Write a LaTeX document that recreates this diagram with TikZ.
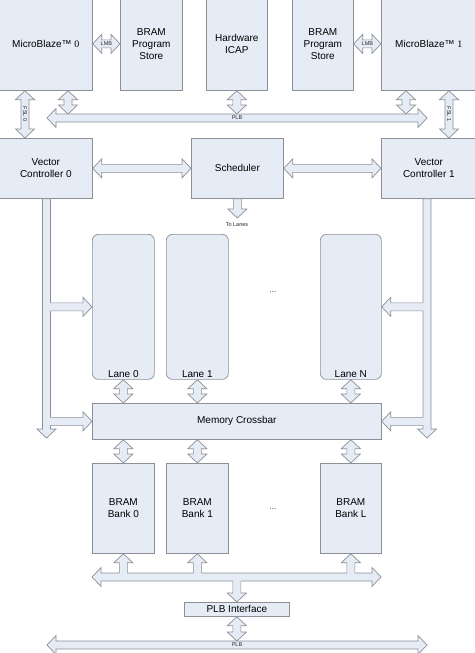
\documentclass[tikz,border=0pt]{standalone}
\usepackage{fontspec}
\setmainfont{Liberation Sans}
\newfontfamily\serifnum{Liberation Serif}
\usetikzlibrary{calc}
\definecolor{boxfill}{RGB}{229,236,246}
\definecolor{boxline}{RGB}{140,143,150}
\def\asw{4pt}\def\ahw{9.5pt}\def\ahl{9pt}
\tikzset{
  box/.style={draw=boxline, fill=boxfill, line width=0.7pt, inner sep=0pt, align=center, anchor=north west, font=\fontsize{10}{12}\selectfont},
  fat/.style={fill=boxfill, draw=boxline, line width=0.7pt, line join=miter},
  fatline/.style={draw=boxline, line width=0.7pt, line join=miter},
  tinylbl/.style={inner sep=0pt, font=\fontsize{5.5}{6.5}\selectfont, text=black!85},
  smalllbl/.style={inner sep=0pt, font=\fontsize{5.5}{6.5}\selectfont, text=black!85},
  dotslbl/.style={inner sep=0pt, font=\fontsize{8}{9}\selectfont, text=black!85},
  lanelbl/.style={inner sep=2pt, anchor=south, font=\fontsize{10}{12}\selectfont}
}
% horizontal double arrow, #1 left tip, #2 right tip
\newcommand\hdbl[2]{\path[fat] let \p1=(#1), \p2=(#2) in
 (\x1,\y1) -- (\x1+\ahl,\y1+\ahw) -- (\x1+\ahl,\y1+\asw) -- (\x2-\ahl,\y1+\asw) -- (\x2-\ahl,\y1+\ahw) -- (\x2,\y1)
 -- (\x2-\ahl,\y1-\ahw) -- (\x2-\ahl,\y1-\asw) -- (\x1+\ahl,\y1-\asw) -- (\x1+\ahl,\y1-\ahw) -- cycle;}
% vertical double arrow, #1 top tip, #2 bottom tip
\newcommand\vdbl[2]{\path[fat] let \p1=(#1), \p2=(#2) in
 (\x1,\y1) -- (\x1+\ahw,\y1-\ahl) -- (\x1+\asw,\y1-\ahl) -- (\x1+\asw,\y2+\ahl) -- (\x1+\ahw,\y2+\ahl) -- (\x1,\y2)
 -- (\x1-\ahw,\y2+\ahl) -- (\x1-\asw,\y2+\ahl) -- (\x1-\asw,\y1-\ahl) -- (\x1-\ahw,\y1-\ahl) -- cycle;}
% single arrow downwards, #1 tail, #2 tip
\newcommand\vdown[2]{\path[fat] let \p1=(#1), \p2=(#2) in
 (\x1-\asw,\y1) -- (\x1+\asw,\y1) -- (\x1+\asw,\y2+\ahl) -- (\x1+\ahw,\y2+\ahl) -- (\x1,\y2)
 -- (\x1-\ahw,\y2+\ahl) -- (\x1-\asw,\y2+\ahl) -- cycle;}
% branches leaving a bus (tail open, starts at bus centre)
\newcommand\rbranch[2]{%
 \fill[boxfill] let \p1=(#1), \p2=(#2) in (\x1,\y1+\asw) -- (\x2-\ahl,\y1+\asw) -- (\x2-\ahl,\y1+\ahw) -- (\x2,\y1) -- (\x2-\ahl,\y1-\ahw) -- (\x2-\ahl,\y1-\asw) -- (\x1,\y1-\asw) -- cycle;
 \path[fatline] let \p1=(#1), \p2=(#2) in (\x1+\asw,\y1+\asw) -- (\x2-\ahl,\y1+\asw) -- (\x2-\ahl,\y1+\ahw) -- (\x2,\y1) -- (\x2-\ahl,\y1-\ahw) -- (\x2-\ahl,\y1-\asw) -- (\x1+\asw,\y1-\asw);}
\newcommand\lbranch[2]{%
 \fill[boxfill] let \p1=(#1), \p2=(#2) in (\x1,\y1+\asw) -- (\x2+\ahl,\y1+\asw) -- (\x2+\ahl,\y1+\ahw) -- (\x2,\y1) -- (\x2+\ahl,\y1-\ahw) -- (\x2+\ahl,\y1-\asw) -- (\x1,\y1-\asw) -- cycle;
 \path[fatline] let \p1=(#1), \p2=(#2) in (\x1-\asw,\y1+\asw) -- (\x2+\ahl,\y1+\asw) -- (\x2+\ahl,\y1+\ahw) -- (\x2,\y1) -- (\x2+\ahl,\y1-\ahw) -- (\x2+\ahl,\y1-\asw) -- (\x1-\asw,\y1-\asw);}
\newcommand\ubranch[2]{%
 \fill[boxfill] let \p1=(#1), \p2=(#2) in (\x1-\asw,\y1) -- (\x1-\asw,\y2-\ahl) -- (\x1-\ahw,\y2-\ahl) -- (\x1,\y2) -- (\x1+\ahw,\y2-\ahl) -- (\x1+\asw,\y2-\ahl) -- (\x1+\asw,\y1) -- cycle;
 \path[fatline] let \p1=(#1), \p2=(#2) in (\x1-\asw,\y1+\asw) -- (\x1-\asw,\y2-\ahl) -- (\x1-\ahw,\y2-\ahl) -- (\x1,\y2) -- (\x1+\ahw,\y2-\ahl) -- (\x1+\asw,\y2-\ahl) -- (\x1+\asw,\y1+\asw);}
\newcommand\dbranch[2]{%
 \fill[boxfill] let \p1=(#1), \p2=(#2) in (\x1-\asw,\y1) -- (\x1-\asw,\y2+\ahl) -- (\x1-\ahw,\y2+\ahl) -- (\x1,\y2) -- (\x1+\ahw,\y2+\ahl) -- (\x1+\asw,\y2+\ahl) -- (\x1+\asw,\y1) -- cycle;
 \path[fatline] let \p1=(#1), \p2=(#2) in (\x1-\asw,\y1-\asw) -- (\x1-\asw,\y2+\ahl) -- (\x1-\ahw,\y2+\ahl) -- (\x1,\y2) -- (\x1+\ahw,\y2+\ahl) -- (\x1+\asw,\y2+\ahl) -- (\x1+\asw,\y1-\asw);}
\begin{document}
\begin{tikzpicture}[x=1pt,y=-1pt]
\useasboundingbox (0,0) rectangle (474,653);
\fill[white] (0,0) rectangle (474,653);
% ---- boxes
\node[box, minimum width=93pt, minimum height=93pt] (mb0) at (-1,-3) {MicroBlaze™ {\serifnum 0}};
\node[box, minimum width=62pt, minimum height=93pt] (bps0) at (120,-3) {BRAM\\Program\\Store};
\node[box, minimum width=61pt, minimum height=93pt] (icap) at (206,-3) {Hardware\\ICAP};
\node[box, minimum width=61pt, minimum height=93pt] (bps1) at (292,-3) {BRAM\\Program\\Store};
\node[box, minimum width=95pt, minimum height=93pt] (mb1) at (381,-3) {MicroBlaze™ {\serifnum 1}};
\node[box, minimum width=93pt, minimum height=60pt] (vc0) at (-1,138) {Vector\\Controller 0};
\node[box, minimum width=92pt, minimum height=60pt] (sched) at (191,138) {Scheduler};
\node[box, minimum width=95pt, minimum height=60pt] (vc1) at (381,138) {Vector\\Controller 1};
\node[box, rounded corners=6pt, minimum width=62pt, minimum height=145pt] (lane0) at (92,234) {};
\node[box, rounded corners=6pt, minimum width=62pt, minimum height=145pt] (lane1) at (166,234) {};
\node[box, rounded corners=6pt, minimum width=61pt, minimum height=145pt] (laneN) at (320,234) {};
\node[lanelbl] (lane0t) at (lane0.south) {Lane 0};
\node[lanelbl] (lane1t) at (lane1.south) {Lane 1};
\node[lanelbl] (laneNt) at (laneN.south) {Lane N};
\node[box, minimum width=289pt, minimum height=36pt] (xbar) at (92,403) {Memory Crossbar};
\node[box, minimum width=62pt, minimum height=90pt] (bank0) at (92,463) {BRAM\\Bank 0};
\node[box, minimum width=62pt, minimum height=90pt] (bank1) at (166,463) {BRAM\\Bank 1};
\node[box, minimum width=61pt, minimum height=90pt] (bankL) at (320,463) {BRAM\\Bank L};
\node[box, minimum width=105pt, minimum height=14pt] (plbif) at (184,602) {PLB Interface};
\node[dotslbl] (dots1) at (273,292) {...};
\node[dotslbl] (dots2) at (273,509) {...};
% ---- coordinates
\coordinate (fsl0) at (25,0);
\coordinate (mb0p) at (68,0);
\coordinate (mb1p) at (406,0);
\coordinate (fsl1) at (449,0);
\coordinate (plbL) at (47,118);
\coordinate (plbR) at (427,118);
\coordinate (plbT) at (0,114);
\coordinate (tolanes) at (237,218);
\coordinate (bus0) at (46.5,0);
\coordinate (bus1) at (427,0);
\coordinate (busend) at (0,438);
\coordinate (bbL) at (92,577);
\coordinate (bbR) at (381,577);
\coordinate (plb2L) at (47,645);
\coordinate (plb2R) at (427,645);
\coordinate (plb2T) at (0,641);
% ---- top connections
\hdbl{plbL}{plbR}
\vdbl{fsl0 |- mb0.south}{fsl0 |- vc0.north}
\vdbl{mb0p |- mb0.south}{mb0p |- plbT}
\vdbl{icap.south}{icap.south |- plbT}
\vdbl{mb1p |- mb1.south}{mb1p |- plbT}
\vdbl{fsl1 |- mb1.south}{fsl1 |- vc1.north}
\hdbl{mb0.east}{bps0.west}
\hdbl{bps1.east}{mb1.west}
\hdbl{vc0.east}{sched.west}
\hdbl{sched.east}{vc1.west}
\vdown{sched.south}{tolanes}
% ---- controller buses
\vdown{bus0 |- vc0.south}{bus0 |- busend}
\vdown{bus1 |- vc1.south}{bus1 |- busend}
\rbranch{bus0 |- lane0.west}{lane0.west}
\rbranch{bus0 |- xbar.west}{xbar.west}
\lbranch{bus1 |- laneN.east}{laneN.east}
\lbranch{bus1 |- xbar.east}{xbar.east}
% ---- lanes / crossbar / banks
\vdbl{lane0.south}{lane0.south |- xbar.north}
\vdbl{lane1.south}{lane1.south |- xbar.north}
\vdbl{laneN.south}{laneN.south |- xbar.north}
\vdbl{bank0.north |- xbar.south}{bank0.north}
\vdbl{bank1.north |- xbar.south}{bank1.north}
\vdbl{bankL.north |- xbar.south}{bankL.north}
\hdbl{bbL}{bbR}
\ubranch{bank0.south |- bbL}{bank0.south}
\ubranch{bank1.south |- bbL}{bank1.south}
\ubranch{bankL.south |- bbL}{bankL.south}
\dbranch{plbif.north |- bbL}{plbif.north}
\hdbl{plb2L}{plb2R}
\vdbl{plbif.south}{plbif.south |- plb2T}
% ---- labels
\node[tinylbl] (lmb0) at ($(mb0.east)!.5!(bps0.west)$) {LMB};
\node[tinylbl] (lmb1) at ($(bps1.east)!.5!(mb1.west)$) {LMB};
\node[tinylbl, rotate=-90] (fsl0l) at (25,114) {FSL 0};
\node[tinylbl, rotate=-90] (fsl1l) at (449,114) {FSL 1};
\node[tinylbl] (plb1l) at (237,118) {PLB};
\node[tinylbl] (plb2l) at (237,645) {PLB};
\node[smalllbl] (tol) at (237,225) {To Lanes};
\end{tikzpicture}
\end{document}
